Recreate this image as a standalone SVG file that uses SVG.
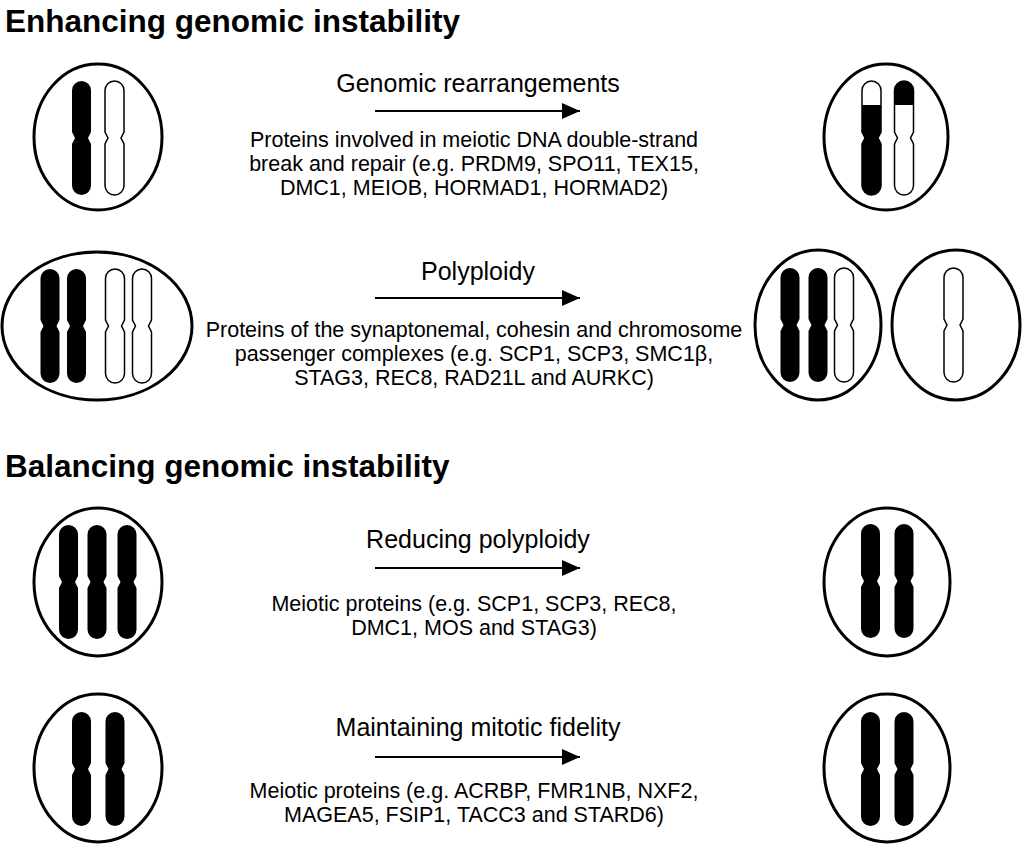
<svg xmlns="http://www.w3.org/2000/svg" xmlns:xlink="http://www.w3.org/1999/xlink" width="1024" height="849" viewBox="0 0 1024 849">
<style>
.cell{fill:none;stroke:#000;stroke-width:3}
.blk{fill:#000}
.wht{fill:#fff;stroke:#000;stroke-width:1.5}
.h{font-family:"Liberation Sans",Arial,sans-serif;font-weight:bold;font-size:31.5px;fill:#000}
.lab{font-family:"Liberation Sans",Arial,sans-serif;font-size:25px;fill:#000;text-anchor:middle}
.txt{font-family:"Liberation Sans",Arial,sans-serif;font-size:21.5px;fill:#000;text-anchor:middle}
.arr{stroke:#000;stroke-width:2;fill:none}
</style>
<defs>
<path id="chr" d="M-9.5,-47.5 A9.5,9.5 0 0 1 9.5,-47.5 L9.5,-6 L6.5,0 L9.5,6 L9.5,47.5 A9.5,9.5 0 0 1 -9.5,47.5 L-9.5,6 L-6.5,0 L-9.5,-6 Z"/>
<marker id="ah2" viewBox="0 0 10 10" refX="10" refY="5" markerWidth="18" markerHeight="16" markerUnits="userSpaceOnUse" orient="auto" preserveAspectRatio="none">
<path d="M0,0 L10,5 L0,10 Z" fill="#000"/>
</marker>
<clipPath id="below" clipPathUnits="userSpaceOnUse"><rect x="-20" y="-33" width="40" height="100"/></clipPath>
<clipPath id="above" clipPathUnits="userSpaceOnUse"><rect x="-20" y="-70" width="40" height="37"/></clipPath>
</defs>

<text class="h" x="5" y="32">Enhancing genomic instability</text>
<text class="h" x="5" y="477">Balancing genomic instability</text>

<g id="cell1L">
<ellipse class="cell" cx="98" cy="137" rx="64" ry="73"/>
<use href="#chr" class="blk" transform="translate(81.5,138)"/>
<use href="#chr" class="wht" transform="translate(114.5,138)"/>
</g>
<g id="cell1R">
<ellipse class="cell" cx="886" cy="137" rx="62" ry="73"/>
<g transform="translate(871.5,138)">
<use href="#chr" class="wht"/>
<use href="#chr" class="blk" clip-path="url(#below)"/>
</g>
<g transform="translate(904,138)">
<use href="#chr" class="wht"/>
<use href="#chr" class="blk" clip-path="url(#above)"/>
</g>
</g>
<g id="cell2L">
<ellipse class="cell" cx="97" cy="326" rx="95" ry="74"/>
<use href="#chr" class="blk" transform="translate(50,326)"/>
<use href="#chr" class="blk" transform="translate(76.5,326)"/>
<use href="#chr" class="wht" transform="translate(115,326)"/>
<use href="#chr" class="wht" transform="translate(142,326)"/>
</g>
<g id="cell2R">
<ellipse class="cell" cx="818" cy="325" rx="63" ry="75"/>
<use href="#chr" class="blk" transform="translate(790,325)"/>
<use href="#chr" class="blk" transform="translate(818,325)"/>
<use href="#chr" class="wht" transform="translate(844,325)"/>
</g>
<g id="cell2R2">
<ellipse class="cell" cx="956" cy="325" rx="64" ry="75"/>
<use href="#chr" class="wht" transform="translate(953.5,325)"/>
</g>
<g id="cell3L">
<ellipse class="cell" cx="98" cy="582" rx="64" ry="74"/>
<use href="#chr" class="blk" transform="translate(68.5,582)"/>
<use href="#chr" class="blk" transform="translate(97,582)"/>
<use href="#chr" class="blk" transform="translate(127,582)"/>
</g>
<g id="cell3R">
<ellipse class="cell" cx="887" cy="582" rx="63" ry="74"/>
<use href="#chr" class="blk" transform="translate(870.5,581)"/>
<use href="#chr" class="blk" transform="translate(904,581)"/>
</g>
<g id="cell4L">
<ellipse class="cell" cx="98" cy="768" rx="64" ry="74"/>
<use href="#chr" class="blk" transform="translate(81.5,769)"/>
<use href="#chr" class="blk" transform="translate(115,769)"/>
</g>
<g id="cell4R">
<ellipse class="cell" cx="887" cy="768" rx="63" ry="74"/>
<use href="#chr" class="blk" transform="translate(870.5,769)"/>
<use href="#chr" class="blk" transform="translate(904,769)"/>
</g>

<g id="connectors">
<line class="arr" x1="375" y1="111" x2="580" y2="111" marker-end="url(#ah2)"/>
<line class="arr" x1="375" y1="298" x2="580" y2="298" marker-end="url(#ah2)"/>
<line class="arr" x1="375" y1="568" x2="580" y2="568" marker-end="url(#ah2)"/>
<line class="arr" x1="375" y1="757" x2="580" y2="757" marker-end="url(#ah2)"/>
</g>

<g id="labels">
<text class="lab" x="478" y="92">Genomic rearrangements</text>
<text class="txt" x="474" y="147">Proteins involved in meiotic DNA double-strand</text>
<text class="txt" x="474" y="171">break and repair (e.g. PRDM9, SPO11, TEX15,</text>
<text class="txt" x="474" y="195">DMC1, MEIOB, HORMAD1, HORMAD2)</text>

<text class="lab" x="478" y="280">Polyploidy</text>
<text class="txt" x="474" y="337">Proteins of the synaptonemal, cohesin and chromosome</text>
<text class="txt" x="474" y="361">passenger complexes (e.g. SCP1, SCP3, SMC1β,</text>
<text class="txt" x="474" y="385">STAG3, REC8, RAD21L and AURKC)</text>

<text class="lab" x="478" y="548">Reducing polyploidy</text>
<text class="txt" x="474" y="611">Meiotic proteins (e.g. SCP1, SCP3, REC8,</text>
<text class="txt" x="474" y="635">DMC1, MOS and STAG3)</text>

<text class="lab" x="478" y="736">Maintaining mitotic fidelity</text>
<text class="txt" x="474" y="798">Meiotic proteins (e.g. ACRBP, FMR1NB, NXF2,</text>
<text class="txt" x="474" y="822">MAGEA5, FSIP1, TACC3 and STARD6)</text>
</g>
</svg>
